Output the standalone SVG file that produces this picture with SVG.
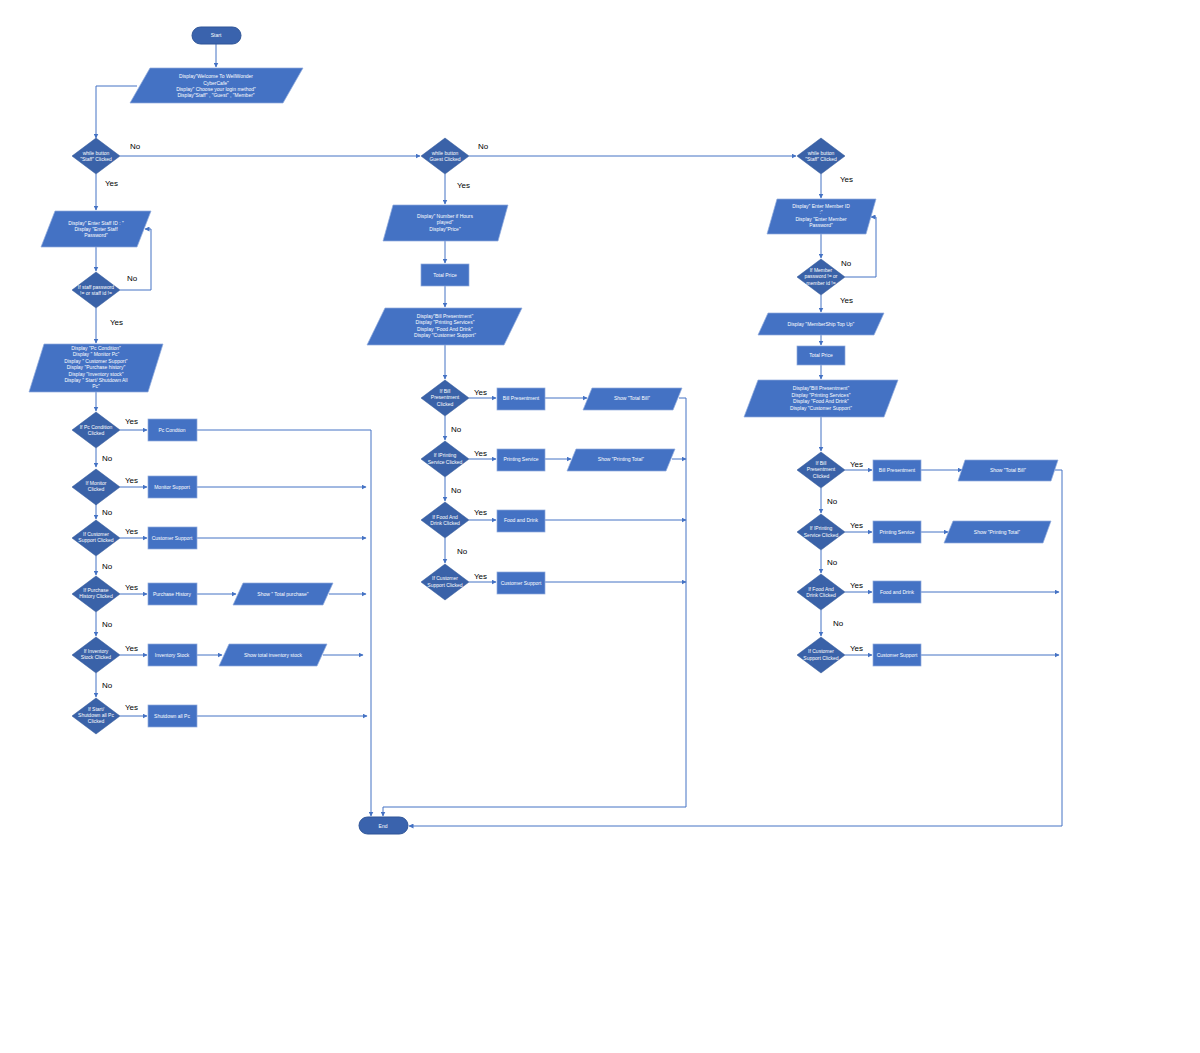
<svg xmlns="http://www.w3.org/2000/svg" width="1200" height="1053" viewBox="0 0 1200 1053">
<defs>
<marker id="a" viewBox="0 0 10 10" refX="9" refY="5" markerWidth="5" markerHeight="5" orient="auto"><path d="M0,0L10,5L0,10z" fill="#4472C4"/></marker>
<style>
.t{fill:#3A63AD;stroke:#2F5597;stroke-width:1}
.p,.b{fill:#4472C4;stroke:#8FAADC;stroke-width:0.7}
.d{fill:#3A62A8;stroke:#2F5597;stroke-width:0.5}
.w{font-family:"Liberation Sans",Arial,sans-serif;font-size:5px;fill:#fff;text-anchor:middle}
.l{font-family:"Liberation Sans",Arial,sans-serif;font-size:8px;fill:#000}
#c path{fill:none;stroke:#4472C4;stroke-width:1}
</style>
</defs>
<rect width="1200" height="1053" fill="#fff"/>
<g id="c">
<path d="M216,44V67" marker-end="url(#a)"/>
<path d="M137,86H96V138" marker-end="url(#a)"/>
<path d="M120,156H420" marker-end="url(#a)"/>
<path d="M469,156H796" marker-end="url(#a)"/>
<path d="M96,174V210" marker-end="url(#a)"/>
<path d="M96,247V271" marker-end="url(#a)"/>
<path d="M120,290H151V229H145" marker-end="url(#a)"/>
<path d="M96,308V343" marker-end="url(#a)"/>
<path d="M96,392V411" marker-end="url(#a)"/>
<path d="M96,448V467" marker-end="url(#a)"/>
<path d="M96,504V519" marker-end="url(#a)"/>
<path d="M96,556V575" marker-end="url(#a)"/>
<path d="M96,612V636" marker-end="url(#a)"/>
<path d="M96,673V697" marker-end="url(#a)"/>
<path d="M120,430H147" marker-end="url(#a)"/>
<path d="M120,487H147" marker-end="url(#a)"/>
<path d="M120,538H147" marker-end="url(#a)"/>
<path d="M120,594H147" marker-end="url(#a)"/>
<path d="M120,655H147" marker-end="url(#a)"/>
<path d="M120,716H147" marker-end="url(#a)"/>
<path d="M197,430H371V816" marker-end="url(#a)"/>
<path d="M197,487H366" marker-end="url(#a)"/>
<path d="M197,538H366" marker-end="url(#a)"/>
<path d="M197,594H236" marker-end="url(#a)"/>
<path d="M329,594H366" marker-end="url(#a)"/>
<path d="M197,655H222" marker-end="url(#a)"/>
<path d="M323,655H363" marker-end="url(#a)"/>
<path d="M197,716H367" marker-end="url(#a)"/>
<path d="M445,174V204" marker-end="url(#a)"/>
<path d="M445,241V263" marker-end="url(#a)"/>
<path d="M445,286V307" marker-end="url(#a)"/>
<path d="M445,345V379" marker-end="url(#a)"/>
<path d="M445,416V440" marker-end="url(#a)"/>
<path d="M445,477V501" marker-end="url(#a)"/>
<path d="M445,538V563" marker-end="url(#a)"/>
<path d="M469,398H496" marker-end="url(#a)"/>
<path d="M469,459H496" marker-end="url(#a)"/>
<path d="M469,520H496" marker-end="url(#a)"/>
<path d="M469,582H496" marker-end="url(#a)"/>
<path d="M545,398H587" marker-end="url(#a)"/>
<path d="M545,459H571" marker-end="url(#a)"/>
<path d="M679,398H686V807H383V816" marker-end="url(#a)"/>
<path d="M672,459H686" marker-end="url(#a)"/>
<path d="M545,520H686" marker-end="url(#a)"/>
<path d="M545,582H686" marker-end="url(#a)"/>
<path d="M821,174V198" marker-end="url(#a)"/>
<path d="M821,234V258" marker-end="url(#a)"/>
<path d="M845,277H876V217H871" marker-end="url(#a)"/>
<path d="M821,295V312" marker-end="url(#a)"/>
<path d="M821,335V345" marker-end="url(#a)"/>
<path d="M821,365V379" marker-end="url(#a)"/>
<path d="M821,417V451" marker-end="url(#a)"/>
<path d="M821,488V513" marker-end="url(#a)"/>
<path d="M821,550V573" marker-end="url(#a)"/>
<path d="M821,610V636" marker-end="url(#a)"/>
<path d="M845,470H872" marker-end="url(#a)"/>
<path d="M845,532H872" marker-end="url(#a)"/>
<path d="M845,592H872" marker-end="url(#a)"/>
<path d="M845,655H872" marker-end="url(#a)"/>
<path d="M921,470H962" marker-end="url(#a)"/>
<path d="M921,532H948" marker-end="url(#a)"/>
<path d="M1055,470H1062V826H409" marker-end="url(#a)"/>
<path d="M921,592H1059" marker-end="url(#a)"/>
<path d="M921,655H1059" marker-end="url(#a)"/>
</g>
<g id="labels">
<text class="l" x="130" y="149">No</text><text class="l" x="105" y="186">Yes</text>
<text class="l" x="127" y="281">No</text><text class="l" x="110" y="325">Yes</text>
<text class="l" x="125" y="424">Yes</text><text class="l" x="125" y="483">Yes</text><text class="l" x="125" y="534">Yes</text><text class="l" x="125" y="590">Yes</text><text class="l" x="125" y="651">Yes</text><text class="l" x="125" y="710">Yes</text>
<text class="l" x="102" y="461">No</text><text class="l" x="102" y="515">No</text><text class="l" x="102" y="569">No</text><text class="l" x="102" y="627">No</text><text class="l" x="102" y="688">No</text>
<text class="l" x="478" y="149">No</text><text class="l" x="457" y="188">Yes</text>
<text class="l" x="474" y="395">Yes</text><text class="l" x="474" y="456">Yes</text><text class="l" x="474" y="515">Yes</text><text class="l" x="474" y="579">Yes</text>
<text class="l" x="451" y="432">No</text><text class="l" x="451" y="493">No</text><text class="l" x="457" y="554">No</text>
<text class="l" x="840" y="182">Yes</text><text class="l" x="841" y="266">No</text><text class="l" x="840" y="303">Yes</text>
<text class="l" x="850" y="467">Yes</text><text class="l" x="850" y="528">Yes</text><text class="l" x="850" y="588">Yes</text><text class="l" x="850" y="651">Yes</text>
<text class="l" x="827" y="504">No</text><text class="l" x="827" y="565">No</text><text class="l" x="833" y="626">No</text>
</g>
<g id="start"><rect class="t" x="192" y="27" width="49" height="17" rx="8.5"/><text class="w" x="216" y="37">Start</text></g>
<g id="welcome"><polygon class="p" points="150,68 303,68 283,103 130,103"/><text class="w" x="216" y="78">Display"Welcome To WellWonder</text><text class="w" x="216" y="85">CyberCafe"</text><text class="w" x="216" y="91">Display" Choose your login method"</text><text class="w" x="216" y="97">Display"Staff" , "Guest" , "Member"</text></g>
<g id="d-staff"><polygon class="d" points="96,138 120,156 96,174 72,156"/><text class="w" x="96" y="155">while button</text><text class="w" x="96" y="161">"Staff" Clicked</text></g>
<g id="staff-input"><polygon class="p" points="55,211 151,211 137,247 41,247"/><text class="w" x="96" y="225">Display" Enter Staff ID : "</text><text class="w" x="96" y="231">Display "Enter Staff</text><text class="w" x="96" y="237">Password"</text></g>
<g id="d-staffpw"><polygon class="d" points="96,272 120,290 96,308 72,290"/><text class="w" x="96" y="289">If staff password</text><text class="w" x="96" y="295">!= or staff id !=</text></g>
<g id="staff-menu"><polygon class="p" points="44,344 163,344 148,392 29,392"/><text class="w" x="96" y="350">Display "Pc Condition"</text><text class="w" x="96" y="356">Display " Monitor Pc"</text><text class="w" x="96" y="363">Display " Customer Support"</text><text class="w" x="96" y="369">Display "Purchase history"</text><text class="w" x="96" y="376">Display "Inventory stock"</text><text class="w" x="96" y="382">Display " Start/ Shutdown All</text><text class="w" x="96" y="388">Pc"</text></g>
<g id="d-pc"><polygon class="d" points="96,412 120,430 96,448 72,430"/><text class="w" x="96" y="429">If Pc Condition</text><text class="w" x="96" y="435">Clicked</text></g>
<g id="pc"><rect class="b" x="148" y="419" width="49" height="22"/><text class="w" x="172" y="432">Pc Condtion</text></g>
<g id="d-mon"><polygon class="d" points="96,469 120,487 96,505 72,487"/><text class="w" x="96" y="485">If Monitor</text><text class="w" x="96" y="491">Clicked</text></g>
<g id="mon"><rect class="b" x="148" y="476" width="49" height="22"/><text class="w" x="172" y="489">Monitor Support</text></g>
<g id="d-cs"><polygon class="d" points="96,520 120,538 96,556 72,538"/><text class="w" x="96" y="536">If Customer</text><text class="w" x="96" y="542">Support Clicked</text></g>
<g id="cs"><rect class="b" x="148" y="527" width="49" height="22"/><text class="w" x="172" y="540">Customer Support</text></g>
<g id="d-ph"><polygon class="d" points="96,576 120,594 96,612 72,594"/><text class="w" x="96" y="592">If Purchase</text><text class="w" x="96" y="598">History Clicked</text></g>
<g id="ph"><rect class="b" x="148" y="583" width="49" height="22"/><text class="w" x="172" y="596">Purchase History</text></g>
<g id="ph-show"><polygon class="p" points="243,583 333,583 323,605 233,605"/><text class="w" x="283" y="596">Show " Total purchase"</text></g>
<g id="d-inv"><polygon class="d" points="96,637 120,655 96,673 72,655"/><text class="w" x="96" y="653">If Inventory</text><text class="w" x="96" y="659">Stock Clicked</text></g>
<g id="inv"><rect class="b" x="148" y="644" width="49" height="22"/><text class="w" x="172" y="657">Inventory Stock</text></g>
<g id="inv-show"><polygon class="p" points="229,644 327,644 317,666 219,666"/><text class="w" x="273" y="657">Show total inventory stock</text></g>
<g id="d-sd"><polygon class="d" points="96,698 120,716 96,734 72,716"/><text class="w" x="96" y="711">If Start/</text><text class="w" x="96" y="717">Shutdown all Pc</text><text class="w" x="96" y="723">Clicked</text></g>
<g id="sd"><rect class="b" x="148" y="705" width="49" height="22"/><text class="w" x="172" y="718">Shutdown all Pc</text></g>
<g id="d-guest"><polygon class="d" points="445,138 469,156 445,174 421,156"/><text class="w" x="445" y="155">while button</text><text class="w" x="445" y="161">Guest Clicked</text></g>
<g id="guest-in"><polygon class="p" points="393,205 508,205 498,241 383,241"/><text class="w" x="445" y="218">Display" Number if Hours</text><text class="w" x="445" y="224">played"</text><text class="w" x="445" y="231">Display"Price"</text></g>
<g id="g-total"><rect class="b" x="421" y="264" width="48" height="22"/><text class="w" x="445" y="277">Total Price</text></g>
<g id="g-menu"><polygon class="p" points="385,308 522,308 504,345 367,345"/><text class="w" x="445" y="318">Display"Bill Presentment"</text><text class="w" x="445" y="324">Display "Printing Services"</text><text class="w" x="445" y="331">Display "Food And Drink"</text><text class="w" x="445" y="337">Display "Customer Support"</text></g>
<g id="g-d-bill"><polygon class="d" points="445,380 469,398 445,416 421,398"/><text class="w" x="445" y="393">If Bill</text><text class="w" x="445" y="399">Presentment</text><text class="w" x="445" y="406">Clicked</text></g>
<g id="g-bill"><rect class="b" x="497" y="388" width="48" height="22"/><text class="w" x="521" y="400">Bill Presentment</text></g>
<g id="g-bill-show"><polygon class="p" points="592,388 682,388 673,410 583,410"/><text class="w" x="632" y="400">Show "Total Bill"</text></g>
<g id="g-d-print"><polygon class="d" points="445,441 469,459 445,477 421,459"/><text class="w" x="445" y="457">If IPrinting</text><text class="w" x="445" y="464">Service Clicked</text></g>
<g id="g-print"><rect class="b" x="497" y="449" width="48" height="22"/><text class="w" x="521" y="461">Printing Service</text></g>
<g id="g-print-show"><polygon class="p" points="576,449 675,449 666,471 567,471"/><text class="w" x="621" y="461">Show "Printing Total"</text></g>
<g id="g-d-food"><polygon class="d" points="445,502 469,520 445,538 421,520"/><text class="w" x="445" y="519">If Food And</text><text class="w" x="445" y="525">Drink Clicked</text></g>
<g id="g-food"><rect class="b" x="497" y="510" width="48" height="22"/><text class="w" x="521" y="522">Food and Drink</text></g>
<g id="g-d-cs"><polygon class="d" points="445,564 469,582 445,600 421,582"/><text class="w" x="445" y="580">If Customer</text><text class="w" x="445" y="587">Support Clicked</text></g>
<g id="g-cs"><rect class="b" x="497" y="572" width="48" height="22"/><text class="w" x="521" y="585">Customer Support</text></g>
<g id="d-member"><polygon class="d" points="821,138 845,156 821,174 797,156"/><text class="w" x="821" y="155">while button</text><text class="w" x="821" y="161">"Staff" Clicked</text></g>
<g id="m-in"><polygon class="p" points="777,199 876,199 866,234 767,234"/><text class="w" x="821" y="208">Display" Enter Member ID</text><text class="w" x="821" y="214">:"</text><text class="w" x="821" y="221">Display "Enter Member</text><text class="w" x="821" y="227">Password"</text></g>
<g id="m-d-pw"><polygon class="d" points="821,259 845,277 821,295 797,277"/><text class="w" x="821" y="272">If Member</text><text class="w" x="821" y="278">password != or</text><text class="w" x="821" y="285">member id !=</text></g>
<g id="m-topup"><polygon class="p" points="768,313 884,313 874,335 758,335"/><text class="w" x="821" y="326">Display "MemberShip Top Up"</text></g>
<g id="m-total"><rect class="b" x="797" y="346" width="48" height="19"/><text class="w" x="821" y="357">Total Price</text></g>
<g id="m-menu"><polygon class="p" points="758,380 898,380 884,417 744,417"/><text class="w" x="821" y="390">Display"Bill Presentment"</text><text class="w" x="821" y="397">Display "Printing Services"</text><text class="w" x="821" y="403">Display "Food And Drink"</text><text class="w" x="821" y="410">Display "Customer Support"</text></g>
<g id="m-d-bill"><polygon class="d" points="821,452 845,470 821,488 797,470"/><text class="w" x="821" y="465">If Bill</text><text class="w" x="821" y="471">Presentment</text><text class="w" x="821" y="478">Clicked</text></g>
<g id="m-bill"><rect class="b" x="873" y="460" width="48" height="21"/><text class="w" x="897" y="472">Bill Presentment</text></g>
<g id="m-bill-show"><polygon class="p" points="965,460 1058,460 1051,481 958,481"/><text class="w" x="1008" y="472">Show "Total Bill"</text></g>
<g id="m-d-print"><polygon class="d" points="821,514 845,532 821,550 797,532"/><text class="w" x="821" y="530">If IPrinting</text><text class="w" x="821" y="537">Service Clicked</text></g>
<g id="m-print"><rect class="b" x="873" y="521" width="48" height="22"/><text class="w" x="897" y="534">Printing Service</text></g>
<g id="m-print-show"><polygon class="p" points="953,521 1051,521 1043,543 944,543"/><text class="w" x="997" y="534">Show "Printing Total"</text></g>
<g id="m-d-food"><polygon class="d" points="821,574 845,592 821,610 797,592"/><text class="w" x="821" y="591">If Food And</text><text class="w" x="821" y="597">Drink Clicked</text></g>
<g id="m-food"><rect class="b" x="873" y="581" width="48" height="22"/><text class="w" x="897" y="594">Food and Drink</text></g>
<g id="m-d-cs"><polygon class="d" points="821,637 845,655 821,673 797,655"/><text class="w" x="821" y="653">If Customer</text><text class="w" x="821" y="660">Support Clicked</text></g>
<g id="m-cs"><rect class="b" x="873" y="644" width="48" height="22"/><text class="w" x="897" y="657">Customer Support</text></g>
<g id="end"><rect class="t" x="359" y="817" width="49" height="17" rx="8.5"/><text class="w" x="383" y="828">End</text></g>
</svg>
